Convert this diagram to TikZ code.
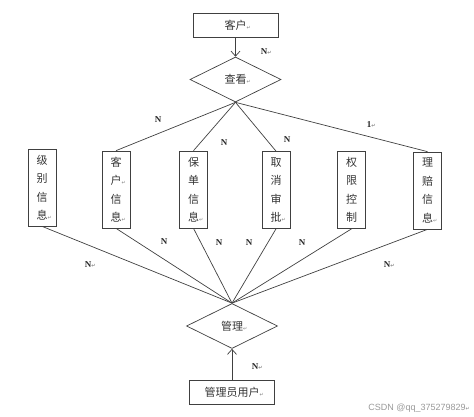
\documentclass[tikz,border=0pt]{standalone}
\usepackage{fontspec}
\usepackage{xcolor}
\usetikzlibrary{shapes.geometric,arrows.meta}
\newfontfamily\cjkfont{Noto Sans CJK SC}
\newfontfamily\symfont{DejaVu Sans}
\newfontfamily\labfont{Liberation Serif}
\newfontfamily\markfont{Liberation Sans}
% small paragraph mark after texts
\newcommand\ret{\rlap{\symfont\fontsize{5}{5}\selectfont\textcolor{gray}{↵}}}

\begin{document}
\begin{tikzpicture}[x=1pt,y=-1pt,
  entity/.style={draw=black!75, line width=0.7pt, minimum width=85pt, minimum height=24pt, inner sep=0pt, font=\cjkfont\fontsize{11}{11}\selectfont, text=black!80},
  column/.style={draw=black!75, line width=0.7pt, minimum width=28pt, minimum height=77pt, inner sep=0pt, align=center, font=\cjkfont\fontsize{11}{18.5}\selectfont, text=black!80},
  relation/.style={diamond, draw=black!75, line width=0.7pt, minimum width=91pt, minimum height=45pt, inner sep=0pt, font=\cjkfont\fontsize{11}{11}\selectfont, text=black!80},
  card/.style={font=\labfont\bfseries\fontsize{9}{9}\selectfont, text=black!85},
  link/.style={draw=black!75, line width=0.7pt}]
        \useasboundingbox (0,0) rectangle (474,417);

        % Entities and relations
        \node[entity] (kehu) at (235.5,25) {客户\ret};
        \node[relation] (chakan) at (235.5,79.5) {查看\ret};
        \node[column] (jibie) at (42,187.5) {级\\别\\信\\息\ret};
        \node[column] (khxx) at (116,189.5) {客\\户\ret\\信\\息\ret};
        \node[column] (baodan) at (193.5,189.5) {保\\单\\信\\息\ret};
        \node[column] (quxiao) at (276,190) {取\\消\\审\\批\ret};
        \node[column] (quanxian) at (351.5,190) {权\\限\\控\\制};
        \node[column] (lipei) at (427.5,190.5) {理\\赔\\信\\息\ret};
        \node[relation] (guanli) at (232,326) {管理\ret};
        \node[entity] (admin) at (232,392) {管理员用户\ret};

        % Connectors
        \draw[link, -{Straight Barb[length=5pt,width=9pt]}] (kehu.south) -- (chakan.north);
        \draw[link, -{Straight Barb[length=5pt,width=9pt]}] (admin.north) -- (guanli.south);
        \foreach \b in {khxx,baodan,quxiao,lipei}
            \draw[link] (chakan.south) -- (\b.north);
        \foreach \b in {jibie,khxx,baodan,quxiao,quanxian,lipei}
            \draw[link] (\b.south) -- (guanli.north);

        % Cardinality labels
        \node[card] (n1) at (264,52) {N\ret};
        \node[card] (n2) at (158,120) {N};
        \node[card] (n3) at (224,143) {N};
        \node[card] (n4) at (287,140) {N};
        \node[card] (n5) at (369,125) {1\ret};
        \node[card] (n6) at (88,265) {N\ret};
        \node[card] (n7) at (164,242) {N};
        \node[card] (n8) at (219,243) {N};
        \node[card] (n9) at (249,243) {N};
        \node[card] (n10) at (302,243) {N};
        \node[card] (n11) at (387,265) {N\ret};
        \node[card] (n12) at (255,367) {N\ret};

        % Watermark
        \node[font=\markfont\fontsize{9}{9}\selectfont, text=black!40] (mark) at (417,408) {CSDN @qq\_375279829\ret};
\end{tikzpicture}
\end{document}
